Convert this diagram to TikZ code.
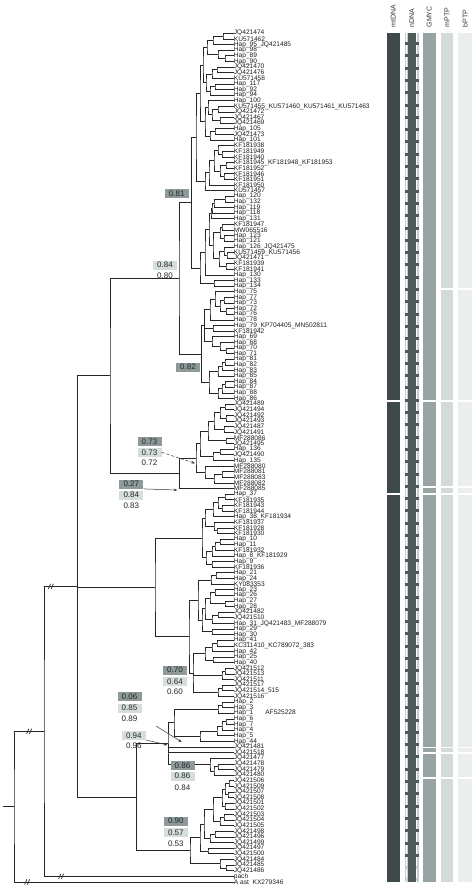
\documentclass[tikz,border=0pt]{standalone}
\usepackage{fontspec}
\setmainfont{Liberation Sans}
\usetikzlibrary{calc,arrows.meta}
\definecolor{cmt}{HTML}{3E4949}
\definecolor{cnd}{HTML}{4F5B5B}
\definecolor{cndl}{HTML}{C5CDCD}
\definecolor{cgm}{HTML}{98A4A4}
\definecolor{cmp}{HTML}{D3DADA}
\definecolor{cbp}{HTML}{EBEEEE}
\definecolor{supdk}{HTML}{8E9A9A}
\definecolor{suplt}{HTML}{D6DDDD}
\newcommand\cl[4]{\path let \p1=(#3), \p2=(#4) in coordinate (#1) at (#2pt,{0.5*(\y1+\y2)});
  \draw[br] (#3) -| (#1) |- (#4);}
\newcommand\clm[5]{\cl{#1}{#2}{#3}{#4}\foreach \cc in {#5}{\draw[br] (#1) |- (\cc);}}
\newcommand\brk[1]{\draw[br] ($#1+(-2.4,2.6)$) -- ++(2.2,-5.2); \draw[br] ($#1+(0.4,2.6)$) -- ++(2.2,-5.2);}
\newcommand\gapline[3]{\fill[white] (#2,#1-0.8) rectangle (#3,#1+0.8);}
\begin{document}
\begin{tikzpicture}[x=1pt,y=-1pt,
  br/.style={draw=black!85, line width=0.7pt},
  tip/.style={anchor=west, inner sep=0.4pt, outer sep=0pt, text=black!88, font=\fontsize{6.6}{6.6}\selectfont},
  sup/.style={inner xsep=1pt, inner ysep=0pt, minimum width=24pt, minimum height=9pt, text=black!85, font=\fontsize{8}{8}\selectfont},
  sdk/.style={sup, fill=supdk},
  slt/.style={sup, fill=suplt},
  stx/.style={sup},
  hdr/.style={rotate=90, anchor=west, inner sep=0pt, text=black!80, font=\fontsize{7}{7}\selectfont},
  arr/.style={draw=black!80, line width=0.5pt, -{Stealth[length=3.5pt,width=2.6pt]}}]
\useasboundingbox (0,0) rectangle (474,887);
\fill[white] (0,0) rectangle (474,887);
% ---------------- tips
\foreach \lab [count=\i] in {JQ421474,KU571462,Hap\_95\_JQ421485,Hap\_98,Hap\_89,Hap\_90,JQ421470,JQ421476,KU571458,Hap\_117,
Hap\_92,Hap\_94,Hap\_100,KU571455\_KU571460\_KU571461\_KU571463,JQ421472,JQ421467,JQ421469,Hap\_105,JQ421473,Hap\_101,
KF181938,KF181949,KF181940,KF181945\_KF181948\_KF181953,KF181952,KF181946,KF181951,KF181950,KU571457,Hap\_120,
Hap\_132,Hap\_119,Hap\_118,Hap\_131,KF181947,MW065516,Hap\_123,Hap\_121,Hap\_126\_JQ421475,KU571459\_KU571456,
JQ421471,KF181939,KF181941,Hap\_130,Hap\_133,Hap\_134,Hap\_75,Hap\_77,Hap\_73,Hap\_72,
Hap\_76,Hap\_78,Hap\_79\_KP704405\_MN502811,KF181942,Hap\_69,Hap\_68,Hap\_70,Hap\_71,Hap\_81,Hap\_82,
Hap\_83,Hap\_85,Hap\_84,Hap\_87,Hap\_88,Hap\_86,JQ421489,JQ421494,JQ421492,JQ421493,
JQ421487,JQ421491,MF288086,JQ421495,Hap\_136,JQ421490,Hap\_135,MF288080,MF288081,MF288083,
MF288082,MF288085,Hap\_37,KF181935,KF181943,KF181944,Hap\_38\_KF181934,KF181937,KF181928,KF181930,
Hap\_10,Hap\_11,KF181932,Hap\_8\_KF181929,Hap\_9,KF181936,Hap\_21,Hap\_24,KY083353,Hap\_23,
Hap\_26,Hap\_27,Hap\_28,JQ421482,JQ421510,Hap\_31\_JQ421483\_MF288079,Hap\_29,Hap\_30,Hap\_41,KC311410\_KC789072\_383,
Hap\_42,Hap\_25,Hap\_40,JQ421512,JQ421513,JQ421511,JQ421517,JQ421514\_515,JQ421516,Hap\_2,
Hap\_3,Hap\_1\hspace{12pt}AF525228,Hap\_6,Hap\_7,Hap\_4,Hap\_5,Hap\_44,JQ421481,JQ421518,JQ421477,
JQ421478,JQ421479,JQ421480,JQ421506,JQ421509,JQ421507,JQ421508,JQ421501,JQ421502,JQ421503,
JQ421504,JQ421505,JQ421498,JQ421496,JQ421499,JQ421497,JQ421500,JQ421484,JQ421485,JQ421486,
pach,A ast\ \ KX279346}
  \node[tip] (t\i) at (233.5,{33.3+5.62*(\i-1)}) {\lab};
% ---------------- clade 1-20
\cl{a1}{223}{t1}{t2}
\cl{a2}{213}{a1}{t3}
\cl{a3}{225}{t5}{t6}
\cl{a4}{218}{t4}{a3}
\cl{a5}{207}{a2}{a4}
\cl{b1}{217}{t7}{t8}
\cl{b2}{212}{b1}{t9}
\cl{b3}{215}{t10}{t11}
\cl{b4}{210}{b3}{t12}
\cl{b5}{206}{b2}{b4}
\cl{ab}{203}{a5}{b5}
\cl{c1}{218}{t14}{t15}
\cl{c2}{220}{t16}{t17}
\cl{c3}{212}{c1}{c2}
\cl{c4}{208}{t13}{c3}
\cl{d1}{215}{t18}{t19}
\cl{d2}{210}{d1}{t20}
\cl{c5}{205}{c4}{d2}
\cl{g1}{200}{ab}{c5}
% KF clade
\cl{e1}{222}{t22}{t23}
\cl{e2}{218}{t21}{e1}
\cl{e3}{226}{t24}{t25}
\cl{e4}{224}{t26}{t27}
\cl{e5}{220}{e3}{e4}
\cl{e6}{214}{e2}{e5}
\cl{e7}{209}{e6}{t28}
\cl{g2}{205}{e7}{t29}
\cl{T1}{196}{g1}{g2}
% Hap_120 clade
\cl{f1}{225}{t30}{t31}
\cl{f2}{214}{f1}{t32}
\cl{f3}{212}{f2}{t33}
\cl{f4}{211}{f3}{t34}
\cl{g3a}{222}{t35}{t36}
\cl{g3b}{224}{t37}{t38}
\cl{g3}{220}{g3a}{g3b}
\cl{h1}{227}{t40}{t41}
\cl{h2}{224}{t39}{h1}
\cl{h3}{226}{t42}{t43}
\cl{h4}{219}{h2}{h3}
\cl{g4}{213}{g3}{h4}
\cl{f5}{209}{f4}{g4}
\cl{f6}{205}{f5}{t44}
\cl{h5}{214}{t45}{t46}
\cl{T2}{200}{f6}{h5}
\cl{C81}{191.7}{T1}{T2}
% 0.82 clade
\cl{i1}{224}{t48}{t49}
\cl{i2}{226}{t50}{t51}
\cl{i3}{220}{i1}{i2}
\cl{i4}{215}{t47}{i3}
\cl{i5}{210}{i4}{t52}
\cl{j1}{213}{t53}{t54}
\cl{k1}{226}{t57}{t58}
\cl{k2}{220}{t56}{k1}
\cl{k3}{212}{t55}{k2}
\cl{l1}{225}{t59}{t60}
\cl{l2}{222}{l1}{t61}
\cl{l3}{218}{l2}{t62}
\cl{l4}{225}{t63}{t64}
\cl{l5}{222}{l4}{t65}
\cl{l6}{218}{l5}{t66}
\cl{l7}{209}{l3}{l6}
\clm{m1}{204.5}{i5}{k3}{j1}
\cl{C82}{201.5}{m1}{l7}
\cl{C84}{179}{C81}{C82}
% JQ4214xx / MF clade
\cl{n1}{225}{t67}{t68}
\cl{n2}{226}{t69}{t70}
\cl{n3}{220}{n1}{n2}
\cl{n4}{224}{t71}{t72}
\cl{n5}{214}{n3}{n4}
\cl{n6}{226}{t73}{t74}
\cl{n7}{208}{n5}{n6}
\cl{o1}{220}{t75}{t76}
\cl{o2}{213}{o1}{t77}
\cl{n8}{200}{n7}{o2}
\cl{p1}{222}{t79}{t80}
\cl{p2}{214}{p1}{t81}
\cl{p3}{205}{t78}{p2}
\cl{D1}{196}{n8}{p3}
\cl{D}{179.3}{D1}{t82}
\cl{A}{110}{C84}{D}
% Hap_37 .. Hap_30
\cl{q1}{225}{t83}{t84}
\cl{q2}{222}{t85}{t86}
\cl{q3}{218}{q1}{q2}
\cl{q4}{213}{q3}{t87}
\cl{q5}{217}{t89}{t90}
\cl{q6}{214}{t88}{q5}
\cl{q7}{205}{q4}{q6}
\cl{r1}{220}{t91}{t92}
\cl{r2}{215}{r1}{t93}
\cl{r3}{212}{r2}{t94}
\cl{r4}{212}{t95}{t96}
\cl{r5}{206}{r3}{r4}
\cl{Q}{202}{q7}{r5}
\cl{s1}{216}{t97}{t98}
\cl{s2}{211}{s1}{t99}
\cl{s3}{215}{t100}{t101}
\cl{s4}{225}{t102}{t103}
\cl{s5}{210}{s3}{s4}
\cl{s6}{218}{t104}{t105}
\cl{s7}{212}{s6}{t106}
\cl{s8}{205}{s5}{s7}
\cl{s9}{212}{t107}{t108}
\cl{s10}{202}{s8}{s9}
\cl{S1}{198}{s2}{s10}
% Hap_41 .. JQ421516 (0.70)
\cl{u1}{217}{t109}{t110}
\cl{u2}{212}{u1}{t111}
\cl{u3}{213}{t112}{t113}
\cl{u4}{205}{u2}{u3}
\cl{v1}{225}{t114}{t115}
\cl{v2}{222}{v1}{t116}
\cl{v3}{222}{t117}{t118}
\cl{v4}{218}{v3}{t119}
\clm{N70}{193}{u4}{v4}{v2}
\cl{KK2}{189}{S1}{N70}
\cl{KK}{155}{Q}{KK2}
% Hap_2 .. Hap_44
\cl{w1}{222}{t120}{t121}
\cl{w2}{218}{w1}{t122}
\cl{w3}{226}{t123}{t124}
\cl{w4}{222}{w3}{t125}
\cl{w5}{217}{w4}{t126}
\cl{Hb}{200}{w5}{t127}
\cl{H}{174}{w2}{Hb}
\cl{x1}{218}{t131}{t132}
\cl{x2}{214}{x1}{t133}
\cl{J}{210}{t130}{x2}
\clm{E}{168}{H}{J}{t128,t129}
% JQ4215xx lower
\cl{y1}{229}{t134}{t135}
\cl{y2}{228}{t136}{t137}
\cl{y3}{225}{y1}{y2}
\cl{y4}{225}{t138}{t139}
\cl{y5}{222}{y3}{y4}
\cl{y6}{224}{t140}{t141}
\cl{y7}{220}{y6}{t142}
\cl{y8}{213}{y5}{y7}
\cl{y9}{215}{t143}{t144}
\cl{y10}{210}{y9}{t145}
\cl{y11}{204}{y8}{y10}
\cl{y12}{208}{t146}{t147}
\cl{F1}{200}{y11}{y12}
\cl{z1}{226}{t149}{t150}
\cl{F2}{220}{t148}{z1}
\cl{F}{190}{F1}{F2}
\cl{B}{136.7}{E}{F}
\clm{IN}{77.7}{A}{B}{KK}
\cl{P}{44}{IN}{t151}
\cl{R}{14}{P}{t152}
\coordinate (rstub) at ($(R)+(-11,0)$);
\draw[br] (R) -- (rstub);
\brk{(IN)+(-27,0)}
\brk{(P)+(-15,0)}
\brk{(P |- t151)+(17,0)}
\brk{(R |- t152)+(13,0)}
% ---------------- support values
\node[sdk] (s81) at (176.7,193.5) {0.81};
\node[slt] (s84a) at (165,265.2) {0.84};
\node[stx] (s84b) at (165,275.7) {0.80};
\node[sdk] (s82) at (188,367) {0.82};
\node[sdk] (s73a) at (149.5,441.5) {0.73};
\node[slt] (s73b) at (149.5,452.3) {0.73};
\node[stx] (s73c) at (149.5,462.7) {0.72};
\node[sdk] (s27a) at (131.3,484.2) {0.27};
\node[slt] (s27b) at (131.3,495) {0.84};
\node[stx] (s27c) at (131.3,506) {0.83};
\node[sdk] (s70a) at (175,670) {0.70};
\node[slt] (s70b) at (175,681.3) {0.64};
\node[stx] (s70c) at (175,691.7) {0.60};
\node[sdk] (s06a) at (129.5,696.7) {0.06};
\node[slt] (s06b) at (129.5,708) {0.85};
\node[stx] (s06c) at (129.5,718.3) {0.89};
\node[slt] (s94a) at (133.8,735.3) {0.94};
\node[stx] (s94b) at (133.8,746) {0.96};
\node[sdk] (s86a) at (182.5,765.8) {0.86};
\node[slt] (s86b) at (182.5,776.2) {0.86};
\node[stx] (s86c) at (182.5,787.3) {0.84};
\node[sdk] (s90a) at (175.8,821.2) {0.90};
\node[slt] (s90b) at (175.8,832.5) {0.57};
\node[stx] (s90c) at (175.8,843.3) {0.53};
\coordinate (a73) at (195,463.3);
\coordinate (a27) at (177.3,490);
\coordinate (a06s) at (156,726);
\coordinate (a06) at (181.7,742);
\coordinate (a94) at (167.5,745);
\draw[arr, densely dashed] (s73b.east) -- (a73);
\draw[arr] (s27a.south east) -- (a27);
\draw[arr] (a06s) -- (a06);
\draw[arr] (s94a.south east) -- (a94);
% ---------------- bars
\fill[cmt] (386.7,32.7) rectangle (400,882);
\fill[cndl] (404.5,32.7) rectangle (419,882);
\fill[cnd] (407.6,32.7) rectangle (415.9,882);
\draw[white, line width=0.9pt, dash pattern=on 9.3pt off 3pt] (406.6,32.7) -- (406.6,882);
\draw[white, line width=0.9pt, dash pattern=on 9.3pt off 3pt] (416.9,32.7) -- (416.9,882);
\foreach \yy in {0,...,66} {\fill[cnd] (404.5,{42.0+12.3*\yy}) rectangle (407.6,{45.0+12.3*\yy});
  \fill[cnd] (415.9,{42.0+12.3*\yy}) rectangle (419,{45.0+12.3*\yy});}
\fill[cgm] (422.7,32.7) rectangle (435.7,882);
\fill[cmp] (440.7,32.7) rectangle (453.3,882);
\fill[cbp] (458.3,32.7) rectangle (471.7,882);
\gapline{401}{386}{401}
\gapline{493.8}{386}{401}
\foreach \gy in {401,487,493.8,747.5,753,777.8} {\gapline{\gy}{422}{472.5}}
\gapline{289.2}{440}{472.5}
\node[hdr] (hmt) at (393.3,27.5) {mtDNA};
\node[hdr] (hnd) at (411.7,27.5) {nDNA};
\node[hdr] (hgm) at (429.2,27.5) {GMYC};
\node[hdr] (hmp) at (447,27.5) {mPTP};
\node[hdr] (hbp) at (465,27.5) {bPTP};
\end{tikzpicture}
\end{document}
